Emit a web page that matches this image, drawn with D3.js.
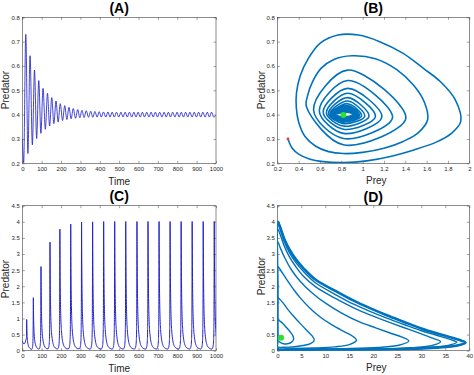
<!DOCTYPE html>
<html><head><meta charset="utf-8">
<script src="https://cdn.jsdelivr.net/npm/d3@7"></script>
<style>
html,body{margin:0;padding:0;background:#fff;}
svg{display:block;font-family:"Liberation Sans",Arial,Helvetica,sans-serif;}
</style></head><body>
<svg id="chart" width="474" height="375"></svg>
<script>
// ---------------- DATA ----------------
// Panel A / B : damped oscillation, per cycle extremes
const aStart = [0, 0.3];
const aEnd = [1000, 0.397];
const peakTimesA = [18, 40, 63, 85, 107, 130, 152, 174, 196, 219, 241, 263, 286, 308, 330, 353, 375, 397, 419, 442, 464, 486, 509, 531, 553, 576, 598, 620, 642, 665, 687, 709, 732, 754, 776, 799, 821, 843, 865, 888, 910, 932, 955, 977];
const troughTimesA = [7, 29, 52, 74, 96, 119, 141, 163, 185, 208, 230, 252, 275, 297, 319, 342, 364, 386, 408, 431, 453, 475, 498, 520, 542, 565, 587, 609, 631, 654, 676, 698, 721, 743, 765, 788, 810, 832, 854, 877, 899, 921, 944, 966, 988];
const predPeaks = [0.73, 0.642, 0.583, 0.54, 0.508, 0.488, 0.47, 0.456, 0.445, 0.437, 0.43, 0.425, 0.421, 0.418, 0.416, 0.414, 0.413, 0.412, 0.411, 0.411, 0.41, 0.41, 0.41, 0.41, 0.41, 0.41, 0.41, 0.41, 0.41, 0.41, 0.41, 0.41, 0.41, 0.41, 0.41, 0.41, 0.41, 0.41, 0.41, 0.41, 0.41, 0.41, 0.41, 0.41];
const predTroughs = [0.203, 0.24, 0.276, 0.302, 0.323, 0.34, 0.353, 0.363, 0.37, 0.376, 0.38, 0.383, 0.385, 0.387, 0.388, 0.389, 0.389, 0.39, 0.39, 0.39, 0.39, 0.39, 0.39, 0.39, 0.39, 0.39, 0.39, 0.39, 0.39, 0.39, 0.39, 0.39, 0.39, 0.39, 0.39, 0.39, 0.39, 0.39, 0.39, 0.39, 0.39, 0.39, 0.39, 0.39, 0.39];
const preyMax = [1.92, 1.61, 1.405, 1.28, 1.18, 1.12, 1.06, 1.02, 0.99, 0.97, 0.955, 0.945, 0.937, 0.93, 0.925, 0.92, 0.917, 0.915, 0.913, 0.912, 0.91, 0.91, 0.91, 0.91, 0.91, 0.91, 0.91, 0.91, 0.91, 0.91, 0.91, 0.91, 0.91, 0.91, 0.91, 0.91, 0.91, 0.91, 0.91, 0.91, 0.91, 0.91, 0.91, 0.91];
const preyMin = [0.375, 0.475, 0.54, 0.594, 0.63, 0.66, 0.68, 0.697, 0.708, 0.716, 0.722, 0.727, 0.731, 0.734, 0.736, 0.738, 0.739, 0.74, 0.741, 0.742, 0.743, 0.743, 0.743, 0.743, 0.743, 0.743, 0.743, 0.743, 0.743, 0.743, 0.743, 0.743, 0.743, 0.743, 0.743, 0.743, 0.743, 0.743, 0.743, 0.743, 0.743, 0.743, 0.743, 0.743];
const bRightPred = [0.372, 0.38, 0.385, 0.388, 0.39, 0.392, 0.393, 0.394, 0.395, 0.396, 0.397, 0.397, 0.398, 0.398, 0.399, 0.399, 0.4, 0.4, 0.4, 0.4, 0.4, 0.4, 0.4, 0.4, 0.4, 0.4, 0.4, 0.4, 0.4, 0.4, 0.4, 0.4, 0.4, 0.4, 0.4, 0.4, 0.4, 0.4, 0.4, 0.4, 0.4, 0.4, 0.4, 0.4];
const bLeftPred = [0.45, 0.43, 0.42, 0.415, 0.411, 0.408, 0.406, 0.405, 0.404, 0.403, 0.402, 0.402, 0.401, 0.401, 0.4, 0.4, 0.4, 0.4, 0.4, 0.4, 0.4, 0.4, 0.4, 0.4, 0.4, 0.4, 0.4, 0.4, 0.4, 0.4, 0.4, 0.4, 0.4, 0.4, 0.4, 0.4, 0.4, 0.4, 0.4, 0.4, 0.4, 0.4, 0.4, 0.4];
const bTopPrey = 0.86, bBottomPrey = 0.82;
// first two loops of the phase plot, traced point by point
const bHead = [[0.3,0.3],[0.34,0.262],[0.4,0.238],[0.5,0.218],[0.63,0.207],[0.82,0.203],[1.04,0.21],[1.26,0.228],[1.48,0.255],[1.69,0.287],[1.83,0.322],[1.92,0.372],[1.87,0.46],[1.73,0.535],[1.57,0.59],[1.38,0.652],[1.16,0.70],[0.96,0.727],[0.77,0.727],[0.6,0.693],[0.49,0.63],[0.415,0.56],[0.38,0.49],[0.378,0.43],[0.4,0.37],[0.46,0.31],[0.56,0.27],[0.68,0.248],[0.82,0.24],[1.0,0.245],[1.2,0.262],[1.38,0.29],[1.52,0.325],[1.61,0.38],[1.58,0.45],[1.48,0.52],[1.32,0.585],[1.12,0.63],[0.9,0.642],[0.73,0.627],[0.61,0.59],[0.53,0.535],[0.485,0.48],[0.475,0.43]];
const bInitial = [0.3, 0.3];
const bEquilibrium = [0.82, 0.398];

// Panel C : relaxation oscillation spikes
const cStart = [[0,0.3],[4,0.24],[9,0.21],[14,0.24],[18,0.33]];
const cPeakTimes = [22.6, 57, 96.5, 143, 194, 250, 306, 363, 420, 477, 534, 592, 649, 706, 763, 820, 877, 934, 991];
const cPeakVals = [0.97, 1.645, 2.61, 3.37, 3.77, 3.93, 3.99, 4.0, 4.01, 4.01, 4.01, 4.01, 4.01, 4.01, 4.01, 4.01, 4.01, 4.01, 4.01];
const cBase = 0.02;
const spikeDt   = [-10, -6, -3.5, -2, -1, -0.4, 0, 0.6, 1.5, 3, 5, 8, 12, 17, 23, 30, 38, 45];
const spikeFrac = [0.012, 0.03, 0.07, 0.16, 0.4, 0.75, 1, 0.82, 0.6, 0.4, 0.26, 0.16, 0.095, 0.052, 0.028, 0.016, 0.01, 0.007];

// Panel D : phase plot loops (prey, predator)
const dLower1 = [[0.3,0.3],[0.7,0.25],[1.3,0.215],[2.1,0.215],[2.9,0.26],[3.4,0.36]];
const dUpper1 = [[3.25,0.46],[2.7,0.58],[1.9,0.72],[1.1,0.85],[0.45,0.93],[0.12,0.97]];
const dLower2 = [[0.03,0.6],[0.02,0.2],[0.05,0.12],[1.2,0.105],[3.2,0.12],[5.3,0.16],[6.9,0.22],[7.7,0.33]];
const dUpper2 = [[7.3,0.45],[6.2,0.62],[4.8,0.84],[3.4,1.07],[2.1,1.3],[1.1,1.5],[0.4,1.61],[0.1,1.645]];
const dLower3 = [[0.03,1.0],[0.02,0.3],[0.04,0.08],[3,0.07],[8,0.085],[12,0.12],[15,0.19],[16.5,0.33]];
const dUpper3 = [[15.7,0.45],[13.8,0.6],[11.4,0.8],[9,1.04],[6.8,1.32],[5,1.6],[3.4,1.9],[2,2.2],[0.9,2.45],[0.3,2.58],[0.1,2.61]];
const dLower4 = [[0.03,1.5],[0.02,0.3],[0.03,0.06],[5,0.05],[14,0.065],[21,0.1],[25.3,0.17],[27.4,0.3]];
const dUpper4 = [[26,0.42],[23.5,0.55],[20.5,0.71],[17,0.9],[13.5,1.16],[10.2,1.46],[7.2,1.8],[4.8,2.15],[2.9,2.52],[1.5,2.9],[0.6,3.2],[0.15,3.37]];
const dLower5 = [[0.03,1.8],[0.02,0.3],[0.03,0.05],[8,0.04],[20,0.055],[28,0.095],[32.3,0.165],[34,0.28]];
const dUpper5 = [[32.5,0.38],[30,0.52],[26.3,0.72],[22.8,0.91],[19.3,1.11],[15.8,1.34],[12.4,1.6],[8,1.98],[5.5,2.3],[3.8,2.62],[2.5,2.92],[1.5,3.23],[0.8,3.52],[0.3,3.72],[0.12,3.77]];
const dLower6 = [[0.03,1.9],[0.02,0.3],[0.03,0.045],[10,0.036],[22,0.05],[31,0.095],[35.6,0.165],[37.4,0.26]];
const dUpper6 = [[36,0.35],[33.2,0.48],[30,0.62],[26.3,0.82],[22.8,1.01],[19.3,1.22],[15.8,1.45],[12.4,1.72],[8,2.1],[5.5,2.45],[3.8,2.75],[2.5,3.05],[1.5,3.37],[0.8,3.68],[0.3,3.88],[0.12,3.93]];
const dLower7 = [[0.03,2.0],[0.02,0.3],[0.03,0.04],[10,0.032],[24,0.045],[33,0.095],[37.5,0.16],[39.2,0.25]];
const dUpper7 = [[38,0.33],[36,0.42],[33.2,0.54],[30,0.69],[26.3,0.9],[22.8,1.1],[19.3,1.32],[15.8,1.56],[12.4,1.83],[8,2.2],[5.5,2.55],[3.8,2.85],[2.5,3.15],[1.5,3.45],[0.8,3.75],[0.3,3.95],[0.12,4.0]];
const dEquilibrium = [0.8, 0.4];

// Tick labels
const timeTicks = [0,100,200,300,400,500,600,700,800,900,1000];
const abYTicks = [0.2,0.3,0.4,0.5,0.6,0.7,0.8];
const abYLabels = ["0.2","0.3","0.4","0.5","0.6","0.7","0.8"];
const bXTicks = [0.2,0.4,0.6,0.8,1,1.2,1.4,1.6,1.8,2];
const bXLabels = ["0.2","0.4","0.6","0.8","1","1.2","1.4","1.6","1.8","2"];
const cdYTicks = [0,0.5,1,1.5,2,2.5,3,3.5,4,4.5];
const cdYLabels = ["0","0.5","1","1.5","2","2.5","3","3.5","4","4.5"];
const dXTicks = [0,5,10,15,20,25,30,35,40];
const titles = ["(A)","(B)","(C)","(D)"];

// ---------------- DRAWING ----------------
const svg = d3.select("#chart");
const axisColor = "#404040";
const lineBlue = "#2222cc";
const matBlue = "#0072BD";

function makePanel(cfg, idx){
  const g = svg.append("g");
  const x = d3.scaleLinear().domain(cfg.xDomain).range([cfg.x0, cfg.x1]);
  const y = d3.scaleLinear().domain(cfg.yDomain).range([cfg.y1, cfg.y0]);
  const clipId = "clip"+idx;
  svg.append("clipPath").attr("id", clipId).append("rect")
    .attr("x", cfg.x0).attr("y", cfg.y0).attr("width", cfg.x1-cfg.x0).attr("height", cfg.y1-cfg.y0);

  const styleAxis = sel => {
    sel.select(".domain").remove();
    sel.selectAll("line").attr("stroke", axisColor).attr("stroke-width", 0.5);
    sel.selectAll("text").attr("fill", "#262626").style("font-size", "6px")
      .style("font-family", '"Liberation Sans", Arial, sans-serif');
  };
  g.append("g").attr("transform", `translate(0,${cfg.y1})`)
    .call(d3.axisBottom(x).tickValues(cfg.xTicks).tickSize(-2.5).tickPadding(3)
      .tickFormat((d,i)=>cfg.xLabels[i])).call(styleAxis);
  g.append("g").attr("transform", `translate(0,${cfg.y0})`)
    .call(d3.axisTop(x).tickValues(cfg.xTicks).tickSize(-2.5).tickFormat(""))
    .call(styleAxis);
  g.append("g").attr("transform", `translate(${cfg.x0},0)`)
    .call(d3.axisLeft(y).tickValues(cfg.yTicks).tickSize(-2.5).tickPadding(2.5)
      .tickFormat((d,i)=>cfg.yLabels[i])).call(styleAxis);
  g.append("g").attr("transform", `translate(${cfg.x1},0)`)
    .call(d3.axisRight(y).tickValues(cfg.yTicks).tickSize(-2.5).tickFormat(""))
    .call(styleAxis);

  g.append("rect").attr("x", cfg.x0).attr("y", cfg.y0)
    .attr("width", cfg.x1-cfg.x0).attr("height", cfg.y1-cfg.y0)
    .attr("fill","none").attr("stroke", axisColor).attr("stroke-width", 0.6);

  // labels
  g.append("text").attr("x", (cfg.x0+cfg.x1)/2).attr("y", cfg.titleY)
    .attr("text-anchor","middle").style("font-size","14px").style("font-weight","bold")
    .attr("fill","#000").text(titles[idx]);
  g.append("text").attr("x", (cfg.x0+cfg.x1)/2 + cfg.xLabelDx).attr("y", cfg.xLabelY)
    .attr("text-anchor","middle").style("font-size","10px").attr("fill","#262626").text(cfg.xLabel);
  g.append("text").attr("transform", `translate(${cfg.yLabelX},${cfg.yLabelY}) rotate(-90)`)
    .attr("text-anchor","middle").style("font-size","10px").attr("fill","#262626").text("Predator");

  const plot = svg.append("g").attr("clip-path", `url(#${clipId})`);
  return {x, y, plot};
}

// Panel A
const A = makePanel({x0:22.3,x1:216,y0:17.3,y1:163.3,xDomain:[0,1000],yDomain:[0.2,0.8],
  xTicks:timeTicks,xLabels:timeTicks.map(String),yTicks:abYTicks,yLabels:abYLabels,
  titleY:12.5,xLabel:"Time",xLabelY:184.5,xLabelDx:0,yLabelX:8.5,yLabelY:90},0);
const aPts = [aStart];
for (let i=0;i<troughTimesA.length;i++){
  aPts.push([troughTimesA[i], predTroughs[i]]);
  if (i<peakTimesA.length) aPts.push([peakTimesA[i], predPeaks[i]]);
}
aPts.push(aEnd);
A.plot.append("path").datum(aPts)
  .attr("d", d3.line().x(d=>A.x(d[0])).y(d=>A.y(d[1])).curve(d3.curveMonotoneX))
  .attr("fill","none").attr("stroke",lineBlue).attr("stroke-width",0.85);

// Panel B
const B = makePanel({x0:277.3,x1:469.3,y0:17.3,y1:163.3,xDomain:[0.2,2],yDomain:[0.2,0.8],
  xTicks:bXTicks,xLabels:bXLabels,yTicks:abYTicks,yLabels:abYLabels,
  titleY:12.5,xLabel:"Prey",xLabelY:184,xLabelDx:3,yLabelX:264.5,yLabelY:90},1);
const bPts = bHead.slice();
for (let k=2;k<predPeaks.length;k++){
  bPts.push([bBottomPrey, predTroughs[k]]);
  bPts.push([preyMax[k], bRightPred[k]]);
  bPts.push([bTopPrey, predPeaks[k]]);
  bPts.push([preyMin[k], bLeftPred[k]]);
}
bPts.push([bBottomPrey, predTroughs[predTroughs.length-1]]);
B.plot.append("path").datum(bPts)
  .attr("d", d3.line().x(d=>B.x(d[0])).y(d=>B.y(d[1])).curve(d3.curveCatmullRom.alpha(0.5)))
  .attr("fill","none").attr("stroke",matBlue).attr("stroke-width",1.6).attr("stroke-linejoin","round");
B.plot.append("circle").attr("cx",B.x(bInitial[0])).attr("cy",B.y(bInitial[1])).attr("r",1.4).attr("fill","#e8383d");
B.plot.append("circle").attr("cx",B.x(bEquilibrium[0])).attr("cy",B.y(bEquilibrium[1])).attr("r",3).attr("fill","#2de02d");

// Panel C
const C = makePanel({x0:22.3,x1:216,y0:205.7,y1:350.7,xDomain:[0,1000],yDomain:[0,4.5],
  xTicks:timeTicks,xLabels:timeTicks.map(String),yTicks:cdYTicks,yLabels:cdYLabels,
  titleY:200.5,xLabel:"Time",xLabelY:371.5,xLabelDx:0,yLabelX:8.5,yLabelY:279},2);
const cPts = cStart.slice();
for (let i=0;i<cPeakTimes.length;i++){
  const T=cPeakTimes[i], P=cPeakVals[i];
  const nextStart = i+1<cPeakTimes.length ? cPeakTimes[i+1]+spikeDt[0] : Infinity;
  spikeDt.forEach((dt,j)=>{
    const t=T+dt, v=cBase+(P-cBase)*spikeFrac[j];
    const last=cPts[cPts.length-1];
    if (t<=last[0]) return;
    if (i===0 && dt<0 && v<last[1]) return;
    if (dt>0 && t>=nextStart-1) return;
    cPts.push([t,v]);
  });
}
C.plot.append("path").datum(cPts)
  .attr("d", d3.line().x(d=>C.x(d[0])).y(d=>C.y(d[1])).curve(d3.curveMonotoneX))
  .attr("fill","none").attr("stroke",lineBlue).attr("stroke-width",1);

// Panel D
const D = makePanel({x0:277.3,x1:469.3,y0:205.7,y1:350.7,xDomain:[0,40],yDomain:[0,4.5],
  xTicks:dXTicks,xLabels:dXTicks.map(String),yTicks:cdYTicks,yLabels:cdYLabels,
  titleY:201.5,xLabel:"Prey",xLabelY:371,xLabelDx:3,yLabelX:264.5,yLabelY:276},3);
const dLowers=[dLower1,dLower2,dLower3,dLower4,dLower5,dLower6,dLower7];
const dUppers=[dUpper1,dUpper2,dUpper3,dUpper4,dUpper5,dUpper6,dUpper7];
const dPts=[];
dLowers.forEach((lw,i)=>{ dPts.push(...lw, ...dUppers[i]); });
const dLine = d3.line().x(d=>D.x(d[0])).y(d=>D.y(d[1])).curve(d3.curveCatmullRom.alpha(0.5));
D.plot.append("path").datum(dPts).attr("d", dLine)
  .attr("fill","none").attr("stroke",matBlue).attr("stroke-width",1.4).attr("stroke-linejoin","round");
// repeated limit cycle (many overlapping loops -> thick band)
D.plot.append("path").datum(dLower7.concat(dUpper7, [dLower7[0]])).attr("d", dLine)
  .attr("fill","none").attr("stroke",matBlue).attr("stroke-width",2.6).attr("stroke-linejoin","round");
D.plot.append("circle").attr("cx",D.x(dEquilibrium[0])).attr("cy",D.y(dEquilibrium[1])).attr("r",3).attr("fill","#2de02d");
</script></body></html>
